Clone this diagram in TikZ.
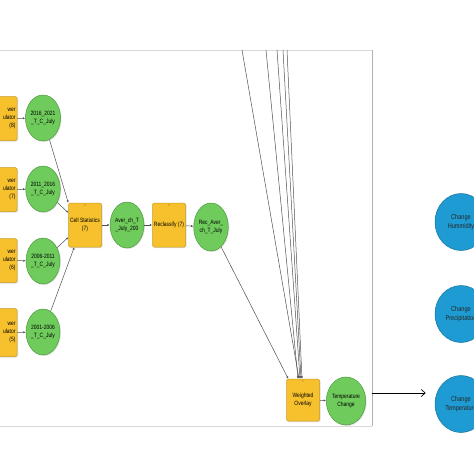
\documentclass[tikz,border=0pt]{standalone}
\usepackage{fontspec}
\setmainfont{Liberation Sans}[FakeStretch=0.8]
\usetikzlibrary{shapes.geometric,arrows.meta,shadows,calc}
\definecolor{ybox}{HTML}{F7C12E}
\definecolor{yedge}{HTML}{C99A22}
\definecolor{gfill}{HTML}{6FCB5C}
\definecolor{gedge}{HTML}{4C9A3E}
\definecolor{bfill}{HTML}{1E9BD2}
\definecolor{bedge}{HTML}{17739E}
\definecolor{lineg}{HTML}{505050}
\begin{document}
\begin{tikzpicture}[x=1pt,y=-1pt,
  tool/.style={draw=yedge,fill=ybox,line width=0.5pt,rounded corners=1.5pt,minimum width=33pt,minimum height=44pt,inner sep=0pt,align=center,font=\fontsize{6.2}{7.6}\selectfont,drop shadow={opacity=0.25,shadow xshift=1pt,shadow yshift=-1pt}},
  data/.style={ellipse,draw=gedge,fill=gfill,line width=0.5pt,minimum width=34pt,minimum height=46pt,inner sep=0pt,align=center,font=\fontsize{6.2}{7.6}\selectfont,drop shadow={opacity=0.2,shadow xshift=1pt,shadow yshift=-1pt}},
  outc/.style={ellipse,draw=bedge,fill=bfill,line width=0.5pt,minimum width=52pt,minimum height=57pt,inner sep=0pt,align=center,text=black!85,font=\fontsize{7}{8.6}\selectfont},
  pmark/.style={inner sep=0pt,font=\fontsize{2.8}{3}\selectfont,text=black!60},
  link/.style={draw=lineg,line width=0.5pt,-{Latex[length=2.4pt,width=2.2pt]}},
  frameline/.style={draw=black!15,line width=0.5pt}]
\useasboundingbox (0,0) rectangle (474,474);
\fill[white] (0,0) rectangle (474,474);
% frame
\draw[frameline] (0,50) -- (372,50);
\draw[frameline] (0,426) -- (372,426);
\draw[draw=black!30,line width=0.6pt] (372,50) -- (372,426);
% left tool boxes (cut off)
\tikzset{cut/.style={tool,minimum width=30pt,text width=27pt,align=right}}
\node[cut] (b1) at (2,118.5) {wer\\ulator\\(8)};
\node[cut] (b2) at (2,189.5) {wer\\ulator\\(7)};
\node[cut] (b3) at (2,260.5) {wer\\ulator\\(6)};
\node[cut,minimum height=48pt] (b4) at (2,332.5) {wer\\ulator\\(5)};
% green data
\node[data] (c1) at (43,118) {2016\_2021\\\_T\_C\_July};
\node[data] (c2) at (43,189) {2011\_2016\\\_T\_C\_July};
\node[data] (c3) at (43,261) {2006-2011\\\_T\_C\_July};
\node[data] (c4) at (43,332) {2001-2006\\\_T\_C\_July};
\foreach \i in {1,...,4}{\draw[link] (b\i) -- (c\i);}
% cell statistics
\node[tool] (cs) at (85,225) {Cell Statistics\\(7)};
\node[pmark] (p1) at (85,205.5) {P};
\draw[link] (c1) -- (cs.north west);
\draw[link] (c2) -- ($(cs.north west)+(0,10)$);
\draw[link] (c3) -- ($(cs.south west)+(0,-10)$);
\draw[link] (c4) -- ($(cs.south west)+(6,0)$);
\node[data] (av) at (127,225) {Aver\_ch\_T\\\_July\_200};
\draw[link] (cs) -- (av);
\node[tool] (rc) at (169,225) {Reclassify (7)};
\node[pmark] (p2) at (169,205.5) {P};
\draw[link] (av) -- (rc);
\node[data,minimum height=48pt] (ra) at (211,227) {Rec\_Aver\_\\ch\_T\_July};
\draw[link] (rc) -- (ra);
% weighted overlay
\node[tool,minimum height=42pt] (wo) at (303,400) {Weighted\\Overlay};
\node[pmark] (p3) at (303,381.5) {P};
\node[data,minimum height=48pt] (tc) at (346,401) {Temperature\\Change};
\draw[link] (wo) -- (tc);
\draw[link] (ra) -- ($(wo.north west)+(2,0)$);
\coordinate (t1) at (242,50);
\coordinate (t2) at (266,50);
\coordinate (t3) at (277,50);
\coordinate (t4) at (283,50);
\coordinate (t5) at (287,50);
\draw[link] (t1) -- ($(wo.north)+(-4,0)$);
\draw[link] (t2) -- ($(wo.north)+(-5,0)$);
\draw[link] (t3) -- ($(wo.north)+(-3,0)$);
\draw[link] (t4) -- ($(wo.north)+(-2,0)$);
\draw[link] (t5) -- ($(wo.north)+(-1,0)$);
% outputs
\node[outc] (ch) at (461,222) {Change\\Hummidity};
\node[outc] (cp) at (461,314) {Change\\Precipitation};
\node[outc] (ct) at (461,404) {Change\\Temperature};
\coordinate (fr) at (372,393);
\draw[black,line width=0.7pt,-{Straight Barb[length=4pt,width=7pt]}] (fr) -- (fr -| {$(ct.west)+(-9,0)$});
\end{tikzpicture}
\end{document}
